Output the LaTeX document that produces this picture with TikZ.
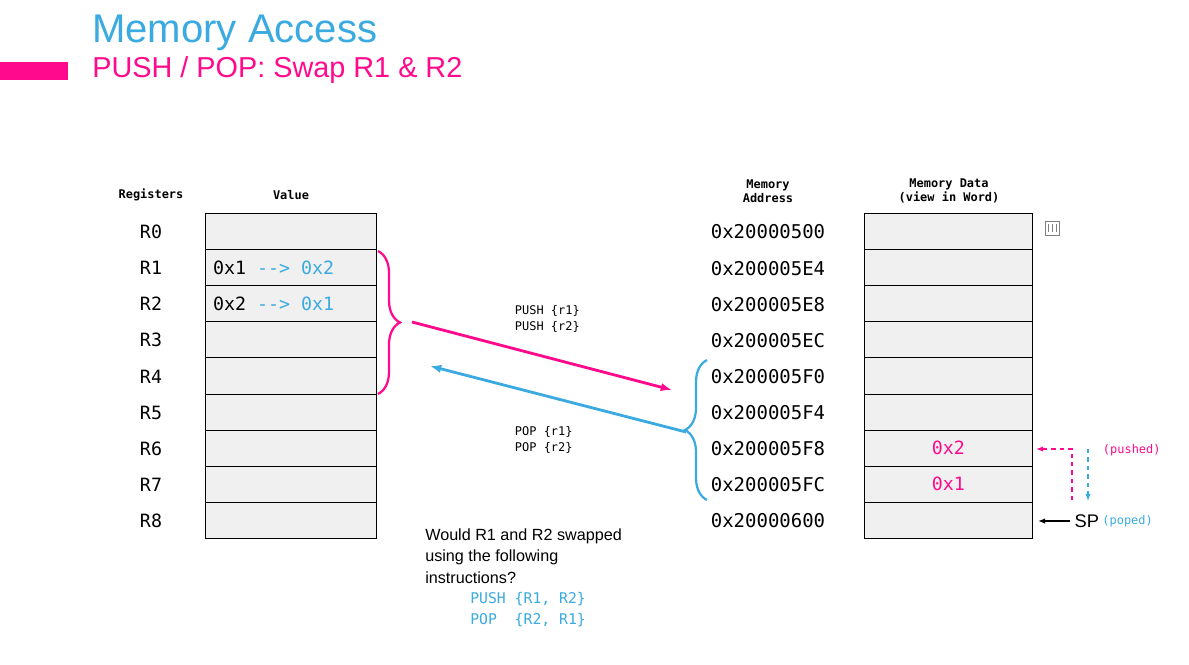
\documentclass[tikz,border=0pt]{standalone}
\usepackage{fontspec}
\setmainfont{Liberation Sans}
\setmonofont{DejaVu Sans Mono}
\usetikzlibrary{arrows.meta,decorations.pathreplacing}
\definecolor{pinkish}{HTML}{FF0A8C}
\definecolor{skyblue}{HTML}{3AAAE0}
\definecolor{cellgray}{HTML}{F0F0F0}
\tikzset{
  cell/.style={draw,fill=cellgray,minimum width=171*0.025cm,minimum height=36.1*0.025cm,inner sep=0pt,anchor=north west},
  mcell/.style={cell,minimum width=168*0.025cm},
  reg/.style={font=\ttfamily\fontsize{13}{13}\selectfont},
  addr/.style={font=\ttfamily\fontsize{13.5}{13.5}\selectfont},
  head/.style={font=\ttfamily\bfseries\fontsize{8.5}{10}\selectfont,align=center},
  instr/.style={font=\ttfamily\fontsize{8.5}{11}\selectfont,align=left,anchor=west},
  bracket/.style={line width=1.6pt,decorate,decoration={brace,amplitude=22*0.025cm}},
  flow/.style={line width=2pt,-{Latex[length=8pt,width=6pt]}},
}
\begin{document}
\begin{tikzpicture}[x=0.025cm,y=-0.025cm]
\useasboundingbox (0,0) rectangle (1189,664);
% title
\fill[pinkish] (0,62) rectangle (68,80);
\node[anchor=west,text=skyblue,font=\fontsize{28.5}{28}\selectfont,inner sep=0pt] (title) at (92,33) {Memory Access};
\node[anchor=west,text=pinkish,font=\fontsize{20.5}{20}\selectfont,inner sep=0pt] (subtitle) at (92,70) {PUSH / POP: Swap R1 \& R2};
% headers
\node[head] (hreg) at (151,195) {Registers};
\node[head] (hval) at (291,195) {Value};
\node[head] (haddr) at (768,191) {Memory\\Address};
\node[head] (hdata) at (949,191) {Memory Data\\(view in Word)};
% registers and memory
\foreach \i/\a in {0/20000500,1/200005E4,2/200005E8,3/200005EC,4/200005F0,5/200005F4,6/200005F8,7/200005FC,8/20000600}{
  \node[cell] (v\i) at (205,213+36.1*\i) {};
  \node[reg] (r\i) at (151,232+36.1*\i) {R\i};
  \node[mcell] (m\i) at (864,213+36.1*\i) {};
  \node[addr] (a\i) at (768,232+36.1*\i) {0x\a};
}
\node[reg,anchor=west] at (v1.west) {\,0x1 \textcolor{skyblue}{--> 0x2}};
\node[reg,anchor=west] at (v2.west) {\,0x2 \textcolor{skyblue}{--> 0x1}};
\node[reg,text=pinkish] at (m6.center) {0x2};
\node[reg,text=pinkish] at (m7.center) {0x1};
% icon
\node[draw=gray,minimum size=14*0.025cm,inner sep=0pt] (icon) at (1052,228) {};
\draw[gray] (1048,224) grid[step=4] (1056,232);
% braces and arrows
\draw[pinkish,bracket] (378,251) -- (378,394);
\draw[skyblue,bracket] (707,500) -- (707,360);
\coordinate (ptip) at (412,322);
\coordinate (btip) at (686,432);
\coordinate (pend) at (672,390);
\coordinate (bend) at (430,366);
\draw[pinkish,flow] (ptip) -- (pend);
\draw[skyblue,flow] (btip) -- (bend);
\node[instr] (push) at (510,319) {PUSH \{r1\}\\PUSH \{r2\}};
\node[instr] (pop) at (510,440) {POP \{r1\}\\POP \{r2\}};
% stack pointer
\coordinate (pk) at (1072,500);
\coordinate (pe) at (1036,449);
\coordinate (bk) at (1088,449);
\coordinate (be) at (1088,501);
\draw[pinkish,thick,dashed,-{Latex[length=5pt]}] (pk) |- (pe);
\draw[skyblue,thick,dashed,-{Latex[length=5pt]}] (bk) -- (be);
\node[text=pinkish,font=\ttfamily\fontsize{8.5}{8.5}\selectfont,anchor=west] (pushed) at (1098,450) {(pushed)};
\node[font=\fontsize{13}{13}\selectfont,anchor=west,inner sep=1pt] (sp) at (1073,521) {SP};
\node[text=skyblue,font=\ttfamily\fontsize{8.5}{8.5}\selectfont,anchor=west,inner sep=1pt] (poped) at (sp.east) {(poped)};
\coordinate (se) at (1038,521);
\draw[thick,-{Latex[length=5pt]}] (sp.west) ++(-3,0) -- (se);
% question
\node[anchor=north west,align=left,font=\fontsize{11.5}{15.5}\selectfont,inner sep=0pt] (q) at (425,528) {Would R1 and R2 swapped\\using the following\\instructions?};
\node[anchor=north west,align=left,text=skyblue,font=\ttfamily\fontsize{10.5}{15}\selectfont,inner sep=0pt] (code) at (470,592) {PUSH \{R1, R2\}\\POP{ }{ }\{R2, R1\}};
\end{tikzpicture}
\end{document}
